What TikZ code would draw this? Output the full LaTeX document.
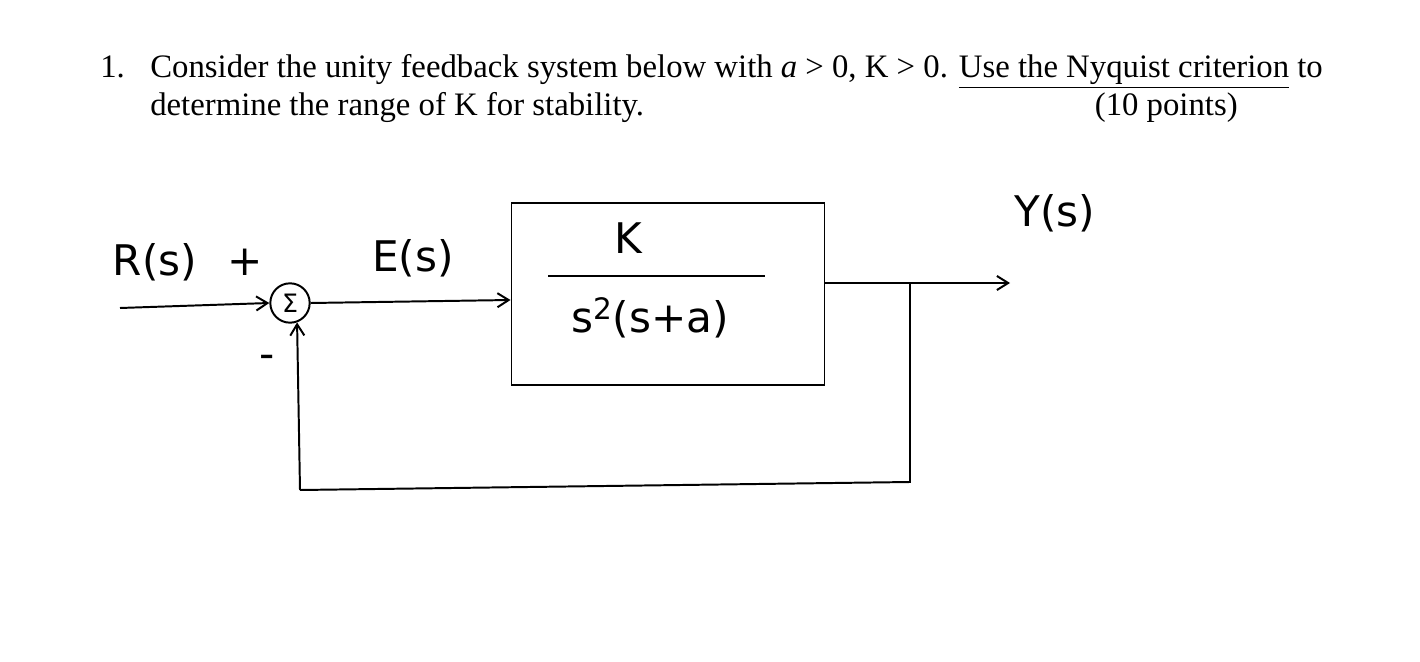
\documentclass[tikz,border=0pt]{standalone}
\usepackage{fontspec}
\setmainfont{Liberation Serif}
\newfontfamily\hand{DejaVu Sans}
\usetikzlibrary{arrows.meta}
\begin{document}
\begin{tikzpicture}[x=0.025cm,y=-0.025cm,
  txt/.style={font=\fontsize{23.3}{28}\selectfont,inner sep=0},
  hw/.style={font=\hand\fontsize{30}{34}\selectfont,inner sep=0},
  ln/.style={line width=1.4pt},
  arr/.style={ln,-{Straight Barb[length=8pt,width=10pt]}}]
\useasboundingbox (0,0) rectangle (1420,662);
\node[txt,anchor=base west] (n1) at (100,78) {1.};
\node[txt,anchor=base west] (q1) at (150,78) {Consider the unity feedback system below with \textit{a} > 0, K > 0. \underline{Use the Nyquist criterion} to};
\node[txt,anchor=base west] (q2) at (150,116) {determine the range of K for stability.};
\node[txt,anchor=base east] (pts) at (1238,116) {(10 points)};
\node[hw] (R) at (155,262) {R(s)};
\node[hw] (plus) at (245,262) {+};
\node[hw] (minus) at (267,362) {-};
\node[draw,ln,circle,minimum size=28pt,inner sep=0,font=\hand\fontsize{18}{20}\selectfont] (sum) at (290,303) {Σ};
\node[hw] (E) at (413,258) {E(s)};
\node[draw,ln,minimum width=313*0.025cm,minimum height=182*0.025cm,inner sep=0] (G) at (668,294) {};
\node[hw] (K) at (628,238) {K};
\coordinate (fl) at (548,276); \coordinate (fr) at (765,276);
\draw[ln] (fl) -- (fr);
\node[hw] (den) at (650,318) {s\textsuperscript{2}(s+a)};
\node[hw] (Y) at (1055,213) {Y(s)};
\coordinate (in) at (120,308);
\coordinate (out) at (1010,283);
\coordinate (tap) at (910,283);
\coordinate (c1) at (910,482);
\coordinate (c2) at (300,490);
\draw[arr] (in) -- (sum.west);
\draw[arr] (sum.east) -- (G.west |- 0,300);
\draw[arr] (G.east |- 0,283) -- (out);
\draw[ln] (tap) -- (c1) -- (c2);
\draw[arr] (c2) -- (sum.-70);
\end{tikzpicture}
\end{document}
